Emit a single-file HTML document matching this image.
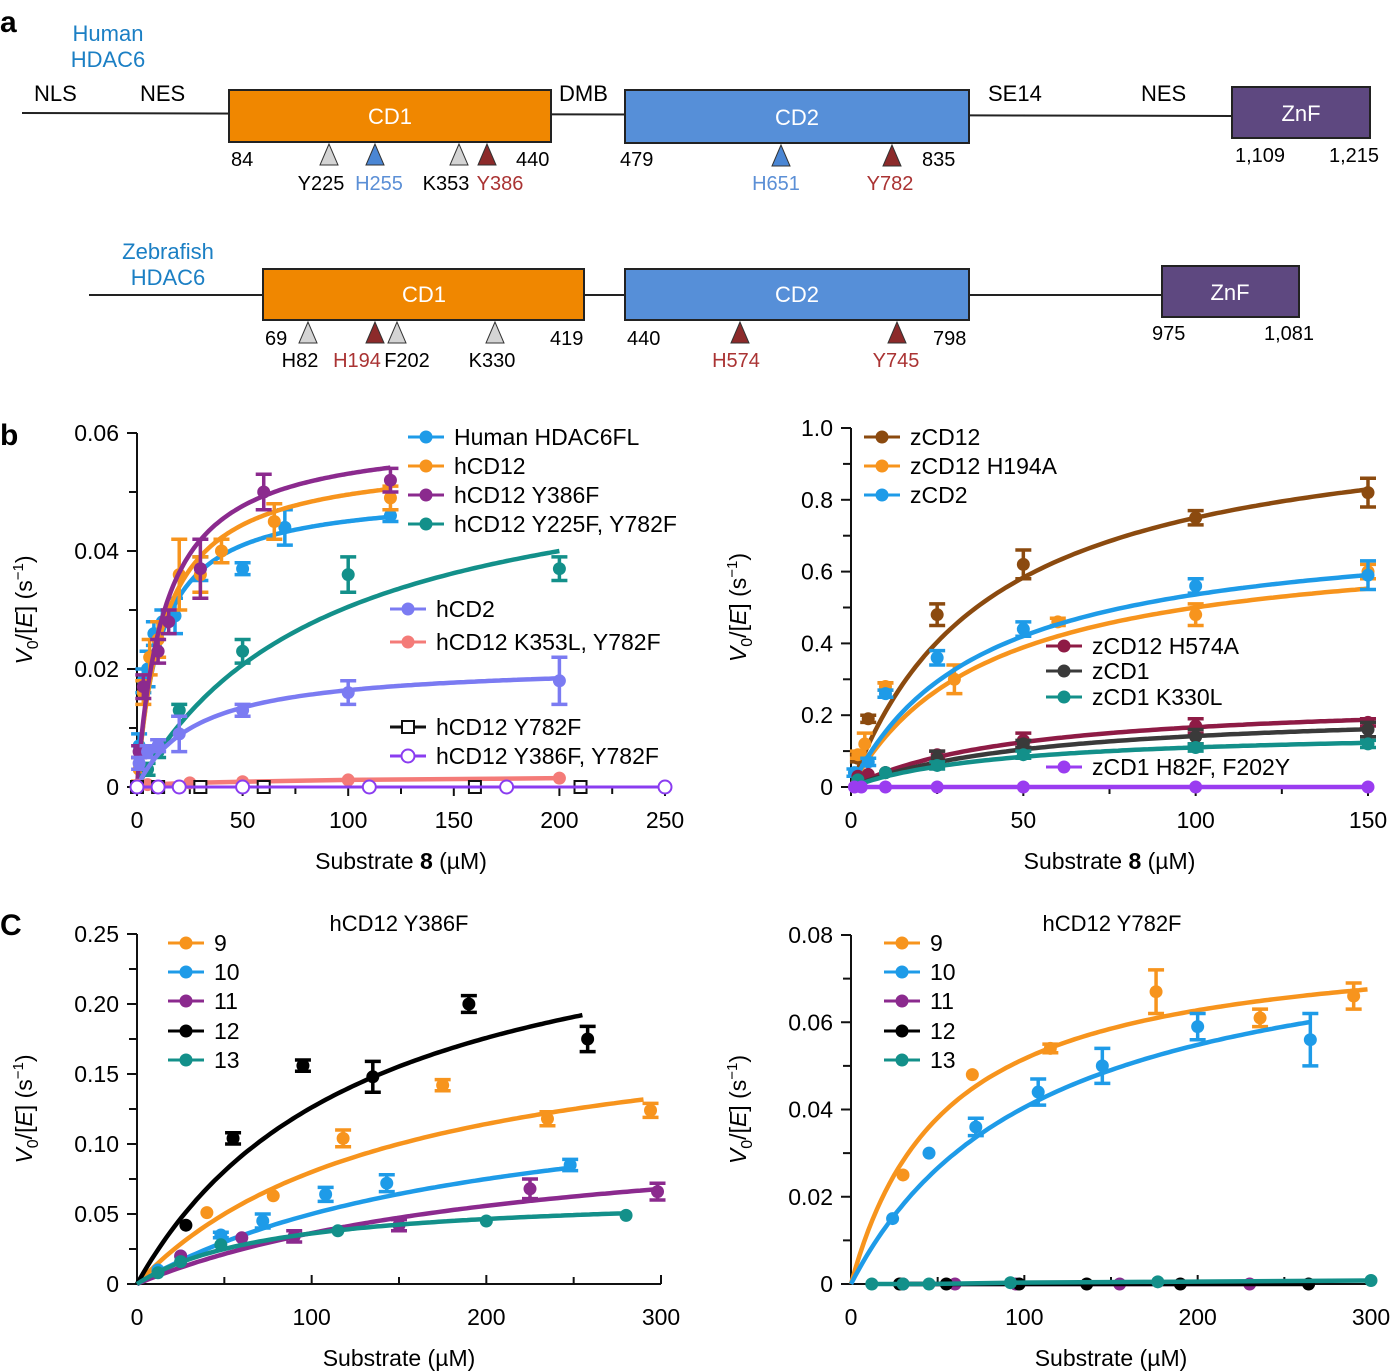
<!DOCTYPE html>
<html><head><meta charset="utf-8"><style>
html,body{margin:0;padding:0;background:#fff}
svg{display:block;font-family:"Liberation Sans","DejaVu Sans",sans-serif}
</style></head><body>
<svg id="fig" width="1395" height="1372" viewBox="0 0 1395 1372" xmlns="http://www.w3.org/2000/svg">
<g font-size="22">
<text x="0" y="32" font-size="30" font-weight="bold">a</text>
<text x="108" y="41" fill="#1b7fc4" text-anchor="middle">Human</text>
<text x="108" y="67" fill="#1b7fc4" text-anchor="middle">HDAC6</text>
<line x1="22" y1="113" x2="1232" y2="116" stroke="#222" stroke-width="2"/>
<text x="34" y="101">NLS</text>
<text x="140" y="101">NES</text>
<text x="559" y="101">DMB</text>
<text x="988" y="101">SE14</text>
<text x="1141" y="101">NES</text>
<rect x="229" y="90" width="322" height="52" fill="#F08700" stroke="#222" stroke-width="2"/>
<text x="390" y="124" fill="#fff" text-anchor="middle">CD1</text>
<rect x="625" y="90" width="344" height="53" fill="#568FD8" stroke="#222" stroke-width="2"/>
<text x="797" y="125" fill="#fff" text-anchor="middle">CD2</text>
<rect x="1232" y="87" width="138" height="51" fill="#5E4880" stroke="#222" stroke-width="2"/>
<text x="1301" y="121" fill="#fff" text-anchor="middle">ZnF</text>
<text x="231" y="166" font-size="20">84</text>
<text x="516" y="166" font-size="20">440</text>
<text x="620" y="166" font-size="20">479</text>
<text x="922" y="166" font-size="20">835</text>
<text x="1235" y="162" font-size="20">1,109</text>
<text x="1329" y="162" font-size="20">1,215</text>
<g font-size="20">
<polygon points="329,144 320,165 338,165" fill="#d4d4d4" stroke="#333"/><text x="321" y="190" text-anchor="middle">Y225</text>
<polygon points="375,144 366,165 384,165" fill="#4a86d4" stroke="#333"/><text x="379" y="190" text-anchor="middle" fill="#5b8fd6">H255</text>
<polygon points="459,144 450,165 468,165" fill="#d4d4d4" stroke="#333"/><text x="446" y="190" text-anchor="middle">K353</text>
<polygon points="487,144 478,165 496,165" fill="#8c2a2a" stroke="#333"/><text x="500" y="190" text-anchor="middle" fill="#a33">Y386</text>
<polygon points="781,145 772,166 790,166" fill="#4a86d4" stroke="#333"/><text x="776" y="190" text-anchor="middle" fill="#5b8fd6">H651</text>
<polygon points="892,145 883,166 901,166" fill="#8c2a2a" stroke="#333"/><text x="890" y="190" text-anchor="middle" fill="#a33">Y782</text>
</g>
<text x="168" y="259" fill="#1b7fc4" text-anchor="middle">Zebrafish</text>
<text x="168" y="285" fill="#1b7fc4" text-anchor="middle">HDAC6</text>
<line x1="89" y1="295" x2="1162" y2="295" stroke="#222" stroke-width="2"/>
<rect x="263" y="269" width="321" height="51" fill="#F08700" stroke="#222" stroke-width="2"/>
<text x="424" y="302" fill="#fff" text-anchor="middle">CD1</text>
<rect x="625" y="269" width="344" height="51" fill="#568FD8" stroke="#222" stroke-width="2"/>
<text x="797" y="302" fill="#fff" text-anchor="middle">CD2</text>
<rect x="1162" y="266" width="137" height="51" fill="#5E4880" stroke="#222" stroke-width="2"/>
<text x="1230" y="300" fill="#fff" text-anchor="middle">ZnF</text>
<text x="265" y="345" font-size="20">69</text>
<text x="550" y="345" font-size="20">419</text>
<text x="627" y="345" font-size="20">440</text>
<text x="933" y="345" font-size="20">798</text>
<text x="1152" y="340" font-size="20">975</text>
<text x="1264" y="340" font-size="20">1,081</text>
<g font-size="20">
<polygon points="308,322 299,343 317,343" fill="#d4d4d4" stroke="#333"/><text x="300" y="367" text-anchor="middle">H82</text>
<polygon points="375,322 366,343 384,343" fill="#8c2a2a" stroke="#333"/><text x="357" y="367" text-anchor="middle" fill="#a33">H194</text>
<polygon points="397,322 388,343 406,343" fill="#d4d4d4" stroke="#333"/><text x="407" y="367" text-anchor="middle">F202</text>
<polygon points="495,322 486,343 504,343" fill="#d4d4d4" stroke="#333"/><text x="492" y="367" text-anchor="middle">K330</text>
<polygon points="740,322 731,343 749,343" fill="#8c2a2a" stroke="#333"/><text x="736" y="367" text-anchor="middle" fill="#a33">H574</text>
<polygon points="897,322 888,343 906,343" fill="#8c2a2a" stroke="#333"/><text x="896" y="367" text-anchor="middle" fill="#a33">Y745</text>
</g>
</g>
<text x="0" y="445" font-size="30" font-weight="bold">b</text>
<text x="0" y="935" font-size="30" font-weight="bold">C</text>
<g id="charts"></g>
</svg>
<script>
// ---- panel b left data ----
const bL_fl_x=[1,3,5,8,12,18,30,50,70,120];
const bL_fl_y=[0.007,0.018,0.02,0.026,0.028,0.029,0.037,0.037,0.044,0.046];
const bL_fl_e=[0.002,0.002,0.003,0.002,0.002,0.003,0.002,0.001,0.003,0.001];
const bL_fl_fit=[0.05,11];
const bL_cd12_x=[1,3,6,10,20,30,40,65,120];
const bL_cd12_y=[0.003,0.016,0.022,0.025,0.036,0.036,0.04,0.045,0.049];
const bL_cd12_e=[0.002,0.002,0.003,0.003,0.006,0.003,0.002,0.003,0.002];
const bL_cd12_fit=[0.056,13];
const bL_y386f_x=[1,3,10,15,30,60,120];
const bL_y386f_y=[0.006,0.017,0.023,0.028,0.037,0.05,0.052];
const bL_y386f_e=[0.001,0.002,0.002,0.002,0.005,0.003,0.002];
const bL_y386f_fit=[0.06,13];
const bL_dm_x=[5,10,20,50,100,200];
const bL_dm_y=[0.003,0.006,0.013,0.023,0.036,0.037];
const bL_dm_e=[0.001,0.001,0.001,0.002,0.003,0.002];
const bL_dm_fit=[0.058,90];
const bL_cd2_x=[1,5,10,20,50,100,200];
const bL_cd2_y=[0.004,0.006,0.007,0.009,0.013,0.016,0.018];
const bL_cd2_e=[0.001,0.001,0.001,0.003,0.001,0.002,0.004];
const bL_cd2_fit=[0.021,28];
const bL_k353l_x=[0,5,25,50,100,200];
const bL_k353l_y=[0.0003,0.0004,0.0007,0.0009,0.0012,0.0015];
const bL_y782f_x=[0,10,30,60,160,210];
const bL_y782f_y=[0,0,0,0,0,0];
const bL_dd_x=[0,10,20,50,110,175,250];
const bL_dd_y=[0,0,0,0,0,0,0];
// ---- panel b right data ----
const bR_z12_x=[2,5,10,25,50,100,150];
const bR_z12_y=[0.08,0.19,0.27,0.48,0.62,0.75,0.82];
const bR_z12_e=[0.01,0.01,0.02,0.03,0.04,0.02,0.04];
const bR_z12_fit=[1.05,40];
const bR_zh194_x=[2,4,10,30,60,100,150];
const bR_zh194_y=[0.09,0.12,0.28,0.3,0.46,0.48,0.6];
const bR_zh194_e=[0.01,0.03,0.01,0.04,0.01,0.03,0.02];
const bR_zh194_fit=[0.7,40];
const bR_zcd2_x=[1,5,10,25,50,100,150];
const bR_zcd2_y=[0.04,0.07,0.26,0.36,0.44,0.56,0.59];
const bR_zcd2_e=[0.01,0.01,0.01,0.02,0.02,0.02,0.04];
const bR_zcd2_fit=[0.74,38];
const bR_h574_x=[2,5,10,25,50,100,150];
const bR_h574_y=[0.03,0.035,0.04,0.09,0.13,0.17,0.18];
const bR_h574_e=[0,0,0,0.01,0.02,0.02,0.01];
const bR_h574_fit=[0.25,50];
const bR_zcd1_x=[2,10,25,50,100,150];
const bR_zcd1_y=[0.02,0.04,0.08,0.12,0.14,0.16];
const bR_zcd1_e=[0,0,0.02,0.01,0.02,0.02];
const bR_zcd1_fit=[0.22,55];
const bR_k330_x=[2,10,25,50,100,150];
const bR_k330_y=[0.02,0.04,0.06,0.09,0.11,0.12];
const bR_k330_e=[0,0,0.01,0.01,0.01,0.01];
const bR_k330_fit=[0.16,45];
const bR_h82_x=[1,3,10,25,50,100,150];
const bR_h82_y=[0,0,0,0,0,0,0];
// ---- panel c left ----
const cL_9_x=[40,78,118,175,235,294];
const cL_9_y=[0.051,0.063,0.104,0.142,0.118,0.124];
const cL_9_e=[0,0,0.006,0.004,0.005,0.005];
const cL_9_fit=[0.2,150,290];
const cL_10_x=[12,25,48,72,108,143,248];
const cL_10_y=[0.01,0.02,0.035,0.045,0.064,0.072,0.085];
const cL_10_e=[0,0,0.002,0.005,0.005,0.006,0.004];
const cL_10_fit=[0.15,200,250];
const cL_11_x=[25,60,90,150,225,298];
const cL_11_y=[0.02,0.033,0.034,0.042,0.068,0.066];
const cL_11_e=[0,0,0.004,0.004,0.007,0.006];
const cL_11_fit=[0.12,230,298];
const cL_12_x=[28,55,95,135,190,258];
const cL_12_y=[0.042,0.104,0.156,0.148,0.2,0.175];
const cL_12_e=[0,0.004,0.004,0.011,0.006,0.009];
const cL_12_fit=[0.29,130,255];
const cL_13_x=[12,25,48,115,200,280];
const cL_13_y=[0.008,0.016,0.028,0.038,0.045,0.049];
const cL_13_e=[0,0,0,0,0,0];
const cL_13_fit=[0.065,80,280];
// ---- panel c right ----
const cR_9_x=[30,70,115,176,236,290];
const cR_9_y=[0.025,0.048,0.054,0.067,0.061,0.066];
const cR_9_e=[0,0,0.001,0.005,0.002,0.003];
const cR_9_fit=[0.08,55,298];
const cR_10_x=[24,45,72,108,145,200,265];
const cR_10_y=[0.015,0.03,0.036,0.044,0.05,0.059,0.056];
const cR_10_e=[0,0,0.002,0.003,0.004,0.003,0.006];
const cR_10_fit=[0.085,110,265];
const cR_11_x=[30,60,95,155,230];
const cR_11_y=[0,0,0,0,0];
const cR_12_x=[28,55,97,136,190,264];
const cR_12_y=[0,0,0,0,0,0];
const cR_13_x=[12,30,45,92,177,300];
const cR_13_y=[0,0,0,0.0003,0.0005,0.0008];

const NS='http://www.w3.org/2000/svg';
const root=document.getElementById('charts');
function mk(tag,attrs,parent,txt){const e=document.createElementNS(NS,tag);for(const k in attrs)e.setAttribute(k,attrs[k]);if(txt!==undefined)e.textContent=txt;(parent||root).appendChild(e);return e;}

function chart(c){
  const g=mk('g',{});
  
  
  const sx=v=>c.x0+(v/c.xmax)*(c.x1-c.x0);
  const sy=v=>c.y0-(v/c.ymax)*(c.y0-c.y1);
  const ax=mk('path',{d:`M${c.x0},${c.y1} V${c.y0} H${c.x1}`,fill:'none',stroke:'#111','stroke-width':2},g);
  
  
  c.xt.forEach((v,i)=>{const x=sx(v);const din=c.xin?-9:9;mk('line',{x1:x,y1:c.y0,x2:x,y2:c.y0+din,stroke:'#111','stroke-width':2},g);
    const t=mk('text',{x:x,y:c.y0+41,'font-size':23,'text-anchor':'middle'},g,c.xl[i]);});
  c.xm.forEach(v=>{const x=sx(v);mk('line',{x1:x,y1:c.y0,x2:x,y2:c.y0+(c.xin?-7:7),stroke:'#111','stroke-width':2},g);});
  c.yt.forEach((v,i)=>{const y=sy(v);mk('line',{x1:c.x0-10,y1:y,x2:c.x0,y2:y,stroke:'#111','stroke-width':2},g);
    const t=mk('text',{x:c.x0-18,y:y+8,'font-size':23,'text-anchor':'end'},g,c.yl[i]);});
  c.ym.forEach(v=>{const y=sy(v);mk('line',{x1:c.x0-8,y1:y,x2:c.x0,y2:y,stroke:'#111','stroke-width':2},g);});
  const xt=mk('text',{x:(c.x0+c.x1)/2,y:c.y0+82,'font-size':23,'text-anchor':'middle'},g);
  
  xt.innerHTML=c.xtitle;
  const yx=c.x0-105, yy=(c.y0+c.y1)/2;
  const yt=mk('text',{x:yx,y:yy,'font-size':23,'text-anchor':'middle',transform:`rotate(-90 ${yx} ${yy})`},g);
  
  yt.innerHTML='<tspan font-style="italic">V</tspan><tspan font-size="16" dy="6">0</tspan><tspan dy="-6">/[</tspan><tspan font-style="italic">E</tspan><tspan>] (s</tspan><tspan font-size="15" dy="-9">−1</tspan><tspan dy="9">)</tspan>';
  if(c.title){const tt=mk('text',{x:c.title[1],y:c.title[2],'font-size':22,'text-anchor':'middle'},g,c.title[0]);}
  c.series.forEach(s=>{
    const sg=mk('g',{},g);
    
    
    let d='';
    if(s.fit){const [vm,km,xe]=s.fit;const end=xe!==undefined?xe:s.x[s.x.length-1];for(let i=0;i<=120;i++){const xv=end*i/120;d+=(i?'L':'M')+sx(xv).toFixed(1)+','+sy(vm*xv/(km+xv)).toFixed(1);}}
    else{s.x.forEach((xv,i)=>{d+=(i?'L':'M')+sx(xv)+','+sy(s.y[i]);});}
    const ln=mk('path',{d:d,fill:'none',stroke:s.col,'stroke-width':s.open?3:4.5},sg);
    
    s.x.forEach((xv,i)=>{const x=sx(xv),y=sy(s.y[i]);
      if(s.e&&s.e[i]>0){const e1=sy(s.y[i]+s.e[i]),e2=sy(s.y[i]-s.e[i]);
        mk('path',{d:`M${x},${e1}V${e2}M${x-8},${e1}H${x+8}M${x-8},${e2}H${x+8}`,stroke:s.col,'stroke-width':3.5,fill:'none'},sg);}
      let m;
      if(s.mk==='sq')m=mk('rect',{x:x-6,y:y-6,width:12,height:12,fill:'#fff',stroke:s.col,'stroke-width':2},sg);
      else if(s.mk==='oc')m=mk('circle',{cx:x,cy:y,r:6.5,fill:'#fff',stroke:s.col,'stroke-width':2},sg);
      else m=mk('circle',{cx:x,cy:y,r:6.5,fill:s.col},sg);
      });
  });
  c.legend.forEach(L=>{const [si,x,y]=L;const s=c.series[si];
    const lg=mk('g',{},g);
    mk('line',{x1:x,y1:y,x2:x+36,y2:y,stroke:s.col,'stroke-width':3},lg);
    if(s.mk==='sq')mk('rect',{x:x+12,y:y-6,width:12,height:12,fill:'#fff',stroke:s.col,'stroke-width':2},lg);
    else if(s.mk==='oc')mk('circle',{cx:x+18,cy:y,r:6.5,fill:'#fff',stroke:s.col,'stroke-width':2},lg);
    else mk('circle',{cx:x+18,cy:y,r:6.5,fill:s.col},lg);
    mk('text',{x:x+46,y:y+8,'font-size':23},lg,s.label);});
}
const BL='#1E9BE8',OR='#F7941D',PU='#8B2A8E',TE='#13908A';
chart({name:'chart-b-left',x0:137,x1:665,xmax:250,y0:787,y1:433,ymax:0.06,
 xt:[0,50,100,150,200,250],xl:['0','50','100','150','200','250'],xm:[25,75,125,175,225],
 yt:[0,0.02,0.04,0.06],yl:['0','0.02','0.04','0.06'],ym:[0.01,0.03,0.05],
 xtitle:'Substrate <tspan font-weight="bold">8</tspan> (µM)',
 series:[
  {id:'human-hdac6fl',label:'Human HDAC6FL',col:BL,x:bL_fl_x,y:bL_fl_y,e:bL_fl_e,fit:bL_fl_fit},
  {id:'hcd12',label:'hCD12',col:OR,x:bL_cd12_x,y:bL_cd12_y,e:bL_cd12_e,fit:bL_cd12_fit},
  {id:'hcd12-y386f',label:'hCD12 Y386F',col:PU,x:bL_y386f_x,y:bL_y386f_y,e:bL_y386f_e,fit:bL_y386f_fit},
  {id:'hcd12-y225f-y782f',label:'hCD12 Y225F, Y782F',col:TE,x:bL_dm_x,y:bL_dm_y,e:bL_dm_e,fit:bL_dm_fit},
  {id:'hcd2',label:'hCD2',col:'#7B7BF2',x:bL_cd2_x,y:bL_cd2_y,e:bL_cd2_e,fit:bL_cd2_fit},
  {id:'hcd12-k353l-y782f',label:'hCD12 K353L, Y782F',col:'#F47B78',x:bL_k353l_x,y:bL_k353l_y},
  {id:'hcd12-y782f',label:'hCD12 Y782F',col:'#111',x:bL_y782f_x,y:bL_y782f_y,mk:'sq',open:1},
  {id:'hcd12-y386f-y782f',label:'hCD12 Y386F, Y782F',col:'#8A3CF0',x:bL_dd_x,y:bL_dd_y,mk:'oc',open:1}],
 legend:[[0,408,437],[1,408,466],[2,408,495],[3,408,524],[4,390,609],[5,390,642],[6,390,727],[7,390,756]]});
chart({name:'chart-b-right',x0:851,x1:1368,xmax:150,y0:787,y1:428,ymax:1.0,
 xt:[0,50,100,150],xl:['0','50','100','150'],xm:[25,75,125],
 yt:[0,0.2,0.4,0.6,0.8,1.0],yl:['0','0.2','0.4','0.6','0.8','1.0'],ym:[0.1,0.3,0.5,0.7,0.9],
 xtitle:'Substrate <tspan font-weight="bold">8</tspan> (µM)',
 series:[
  {id:'zcd12',label:'zCD12',col:'#8B4A0F',x:bR_z12_x,y:bR_z12_y,e:bR_z12_e,fit:bR_z12_fit},
  {id:'zcd12-h194a',label:'zCD12 H194A',col:OR,x:bR_zh194_x,y:bR_zh194_y,e:bR_zh194_e,fit:bR_zh194_fit},
  {id:'zcd2',label:'zCD2',col:BL,x:bR_zcd2_x,y:bR_zcd2_y,e:bR_zcd2_e,fit:bR_zcd2_fit},
  {id:'zcd12-h574a',label:'zCD12 H574A',col:'#8E1B45',x:bR_h574_x,y:bR_h574_y,e:bR_h574_e,fit:bR_h574_fit},
  {id:'zcd1',label:'zCD1',col:'#3a3a3a',x:bR_zcd1_x,y:bR_zcd1_y,e:bR_zcd1_e,fit:bR_zcd1_fit},
  {id:'zcd1-k330l',label:'zCD1 K330L',col:TE,x:bR_k330_x,y:bR_k330_y,e:bR_k330_e,fit:bR_k330_fit},
  {id:'zcd1-h82f-f202y',label:'zCD1 H82F, F202Y',col:'#9A3CF0',x:bR_h82_x,y:bR_h82_y}],
 legend:[[0,864,437],[1,864,466],[2,864,495],[3,1046,646],[4,1046,671],[5,1046,697],[6,1046,767]]});
chart({name:'chart-c-left',x0:137,x1:661,xmax:300,y0:1284,y1:934,ymax:0.25,xin:1,
 xt:[0,100,200,300],xl:['0','100','200','300'],xm:[50,150,250],
 yt:[0,0.05,0.1,0.15,0.2,0.25],yl:['0','0.05','0.10','0.15','0.20','0.25'],ym:[0.025,0.075,0.125,0.175,0.225],
 xtitle:'Substrate (µM)',title:['hCD12 Y386F',399,931],
 series:[
  {id:'c-9',label:'9',col:OR,x:cL_9_x,y:cL_9_y,e:cL_9_e,fit:cL_9_fit},
  {id:'c-10',label:'10',col:BL,x:cL_10_x,y:cL_10_y,e:cL_10_e,fit:cL_10_fit},
  {id:'c-11',label:'11',col:PU,x:cL_11_x,y:cL_11_y,e:cL_11_e,fit:cL_11_fit},
  {id:'c-12',label:'12',col:'#000',x:cL_12_x,y:cL_12_y,e:cL_12_e,fit:cL_12_fit},
  {id:'c-13',label:'13',col:TE,x:cL_13_x,y:cL_13_y,e:cL_13_e,fit:cL_13_fit}],
 legend:[[0,168,943],[1,168,972],[2,168,1001],[3,168,1031],[4,168,1060]]});
chart({name:'chart-c-right',x0:851,x1:1371,xmax:300,y0:1284,y1:935,ymax:0.08,xin:1,
 xt:[0,100,200,300],xl:['0','100','200','300'],xm:[50,150,250],
 yt:[0,0.02,0.04,0.06,0.08],yl:['0','0.02','0.04','0.06','0.08'],ym:[0.01,0.03,0.05,0.07],
 xtitle:'Substrate (µM)',title:['hCD12 Y782F',1112,931],
 series:[
  {id:'c2-9',label:'9',col:OR,x:cR_9_x,y:cR_9_y,e:cR_9_e,fit:cR_9_fit},
  {id:'c2-10',label:'10',col:BL,x:cR_10_x,y:cR_10_y,e:cR_10_e,fit:cR_10_fit},
  {id:'c2-11',label:'11',col:PU,x:cR_11_x,y:cR_11_y},
  {id:'c2-12',label:'12',col:'#000',x:cR_12_x,y:cR_12_y},
  {id:'c2-13',label:'13',col:TE,x:cR_13_x,y:cR_13_y}],
 legend:[[0,884,943],[1,884,972],[2,884,1001],[3,884,1031],[4,884,1060]]});
</script>
</body></html>
